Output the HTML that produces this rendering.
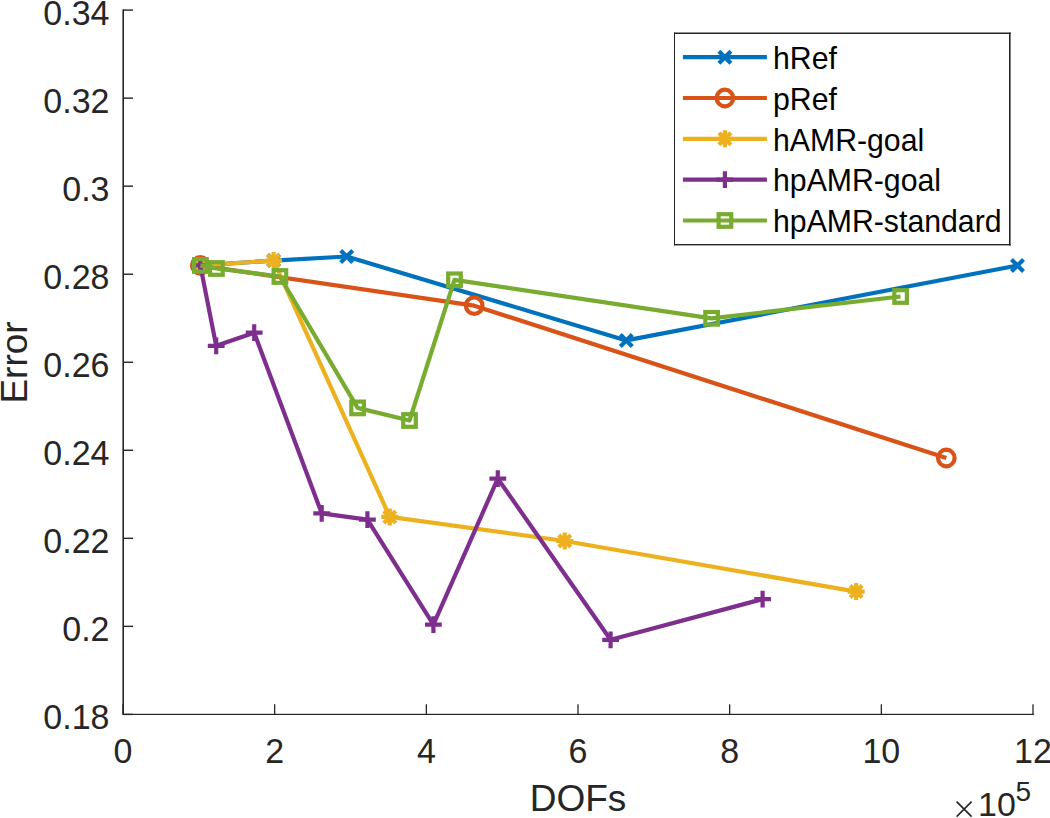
<!DOCTYPE html><html><head><meta charset="utf-8"><style>html,body{margin:0;padding:0;background:#fff;}svg{display:block;}text{font-family:"Liberation Sans",sans-serif;}</style></head><body>
<svg width="1050" height="818" viewBox="0 0 1050 818">
<rect width="1050" height="818" fill="#fff"/>
<g fill="#262626">
<rect x="122.4" y="9.4" width="1.6" height="705.6"/>
<rect x="123" y="713.8" width="911" height="1.2"/>
<rect x="123" y="713.70" width="10" height="1.4"/>
<rect x="123" y="625.66" width="10" height="1.4"/>
<rect x="123" y="537.62" width="10" height="1.4"/>
<rect x="123" y="449.59" width="10" height="1.4"/>
<rect x="123" y="361.55" width="10" height="1.4"/>
<rect x="123" y="273.51" width="10" height="1.4"/>
<rect x="123" y="185.48" width="10" height="1.4"/>
<rect x="123" y="97.44" width="10" height="1.4"/>
<rect x="123" y="9.40" width="10" height="1.4"/>
<rect x="122.35" y="704.3" width="1.3" height="10"/>
<rect x="274.02" y="704.3" width="1.3" height="10"/>
<rect x="425.68" y="704.3" width="1.3" height="10"/>
<rect x="577.35" y="704.3" width="1.3" height="10"/>
<rect x="729.02" y="704.3" width="1.3" height="10"/>
<rect x="880.69" y="704.3" width="1.3" height="10"/>
<rect x="1032.35" y="704.3" width="1.3" height="10"/>
</g>
<g fill="#262626" font-size="34">
<text transform="translate(109.5 729.20) scale(1 1.03)" text-anchor="end">0.18</text>
<text transform="translate(109.5 641.16) scale(1 1.03)" text-anchor="end">0.2</text>
<text transform="translate(109.5 553.12) scale(1 1.03)" text-anchor="end">0.22</text>
<text transform="translate(109.5 465.09) scale(1 1.03)" text-anchor="end">0.24</text>
<text transform="translate(109.5 377.05) scale(1 1.03)" text-anchor="end">0.26</text>
<text transform="translate(109.5 289.01) scale(1 1.03)" text-anchor="end">0.28</text>
<text transform="translate(109.5 200.98) scale(1 1.03)" text-anchor="end">0.3</text>
<text transform="translate(109.5 112.94) scale(1 1.03)" text-anchor="end">0.32</text>
<text transform="translate(109.5 24.90) scale(1 1.03)" text-anchor="end">0.34</text>
<text transform="translate(123.00 762.6) scale(1 1.03)" text-anchor="middle">0</text>
<text transform="translate(274.67 762.6) scale(1 1.03)" text-anchor="middle">2</text>
<text transform="translate(426.33 762.6) scale(1 1.03)" text-anchor="middle">4</text>
<text transform="translate(578.00 762.6) scale(1 1.03)" text-anchor="middle">6</text>
<text transform="translate(729.67 762.6) scale(1 1.03)" text-anchor="middle">8</text>
<text transform="translate(881.34 762.6) scale(1 1.03)" text-anchor="middle">10</text>
<text transform="translate(1033.00 762.6) scale(1 1.03)" text-anchor="middle">12</text>
</g>
<text x="578" y="811" text-anchor="middle" font-size="37" fill="#262626">DOFs</text>
<text transform="translate(26.5 362.5) rotate(-90)" text-anchor="middle" font-size="37" fill="#262626">Error</text>
<path d="M956.6 801.6L971.6 816.6M956.6 816.6L971.6 801.6" stroke="#262626" stroke-width="1.6" fill="none"/>
<text x="978" y="815.8" font-size="34" fill="#262626">10</text>
<text x="1015.5" y="800.8" font-size="28" fill="#262626">5</text>
<path d="M200.30 265.40 L273.60 260.60 L346.70 256.50 L626.30 340.40 L1017.50 265.50" stroke="#0072BD" stroke-width="4.2" fill="none" stroke-linejoin="round"/>
<path d="M194.30 259.40L206.30 271.40M194.30 271.40L206.30 259.40" stroke="#0072BD" stroke-width="4.2" fill="none"/>
<path d="M267.60 254.60L279.60 266.60M267.60 266.60L279.60 254.60" stroke="#0072BD" stroke-width="4.2" fill="none"/>
<path d="M340.70 250.50L352.70 262.50M340.70 262.50L352.70 250.50" stroke="#0072BD" stroke-width="4.2" fill="none"/>
<path d="M620.30 334.40L632.30 346.40M620.30 346.40L632.30 334.40" stroke="#0072BD" stroke-width="4.2" fill="none"/>
<path d="M1011.50 259.50L1023.50 271.50M1011.50 271.50L1023.50 259.50" stroke="#0072BD" stroke-width="4.2" fill="none"/>
<path d="M200.30 265.40 L474.20 305.65 L946.30 458.00" stroke="#D95319" stroke-width="4.2" fill="none" stroke-linejoin="round"/>
<circle cx="200.30" cy="265.40" r="8.3" stroke="#D95319" stroke-width="4.2" fill="none"/>
<circle cx="474.20" cy="305.65" r="8.3" stroke="#D95319" stroke-width="4.2" fill="none"/>
<circle cx="946.30" cy="458.00" r="8.3" stroke="#D95319" stroke-width="4.2" fill="none"/>
<path d="M200.30 265.40 L273.60 260.60 L389.75 516.90 L564.75 541.00 L856.20 591.60" stroke="#EDB120" stroke-width="4.2" fill="none" stroke-linejoin="round"/>
<path d="M191.80 265.40H208.80M200.30 256.90V273.90M194.30 259.40L206.30 271.40M194.30 271.40L206.30 259.40" stroke="#EDB120" stroke-width="4.2" fill="none"/>
<path d="M265.10 260.60H282.10M273.60 252.10V269.10M267.60 254.60L279.60 266.60M267.60 266.60L279.60 254.60" stroke="#EDB120" stroke-width="4.2" fill="none"/>
<path d="M381.25 516.90H398.25M389.75 508.40V525.40M383.75 510.90L395.75 522.90M383.75 522.90L395.75 510.90" stroke="#EDB120" stroke-width="4.2" fill="none"/>
<path d="M556.25 541.00H573.25M564.75 532.50V549.50M558.75 535.00L570.75 547.00M558.75 547.00L570.75 535.00" stroke="#EDB120" stroke-width="4.2" fill="none"/>
<path d="M847.70 591.60H864.70M856.20 583.10V600.10M850.20 585.60L862.20 597.60M850.20 597.60L862.20 585.60" stroke="#EDB120" stroke-width="4.2" fill="none"/>
<path d="M200.30 265.40 L216.20 345.80 L254.20 332.70 L321.70 513.30 L367.40 519.70 L433.40 624.60 L497.80 478.60 L610.60 639.80 L762.60 599.10" stroke="#7E2F8E" stroke-width="4.2" fill="none" stroke-linejoin="round"/>
<path d="M191.90 265.40H208.70M200.30 257.00V273.80" stroke="#7E2F8E" stroke-width="4.2" fill="none"/>
<path d="M207.80 345.80H224.60M216.20 337.40V354.20" stroke="#7E2F8E" stroke-width="4.2" fill="none"/>
<path d="M245.80 332.70H262.60M254.20 324.30V341.10" stroke="#7E2F8E" stroke-width="4.2" fill="none"/>
<path d="M313.30 513.30H330.10M321.70 504.90V521.70" stroke="#7E2F8E" stroke-width="4.2" fill="none"/>
<path d="M359.00 519.70H375.80M367.40 511.30V528.10" stroke="#7E2F8E" stroke-width="4.2" fill="none"/>
<path d="M425.00 624.60H441.80M433.40 616.20V633.00" stroke="#7E2F8E" stroke-width="4.2" fill="none"/>
<path d="M489.40 478.60H506.20M497.80 470.20V487.00" stroke="#7E2F8E" stroke-width="4.2" fill="none"/>
<path d="M602.20 639.80H619.00M610.60 631.40V648.20" stroke="#7E2F8E" stroke-width="4.2" fill="none"/>
<path d="M754.20 599.10H771.00M762.60 590.70V607.50" stroke="#7E2F8E" stroke-width="4.2" fill="none"/>
<path d="M200.40 265.40 L216.40 268.50 L279.90 276.50 L357.60 407.90 L409.50 420.50 L454.50 279.80 L711.60 318.30 L900.60 296.50" stroke="#77AC30" stroke-width="4.2" fill="none" stroke-linejoin="round"/>
<rect x="194.10" y="259.10" width="12.60" height="12.60" stroke="#77AC30" stroke-width="4.2" fill="none"/>
<rect x="210.10" y="262.20" width="12.60" height="12.60" stroke="#77AC30" stroke-width="4.2" fill="none"/>
<rect x="273.60" y="270.20" width="12.60" height="12.60" stroke="#77AC30" stroke-width="4.2" fill="none"/>
<rect x="351.30" y="401.60" width="12.60" height="12.60" stroke="#77AC30" stroke-width="4.2" fill="none"/>
<rect x="403.20" y="414.20" width="12.60" height="12.60" stroke="#77AC30" stroke-width="4.2" fill="none"/>
<rect x="448.20" y="273.50" width="12.60" height="12.60" stroke="#77AC30" stroke-width="4.2" fill="none"/>
<rect x="705.30" y="312.00" width="12.60" height="12.60" stroke="#77AC30" stroke-width="4.2" fill="none"/>
<rect x="894.30" y="290.20" width="12.60" height="12.60" stroke="#77AC30" stroke-width="4.2" fill="none"/>
<rect x="674" y="32" width="337" height="214" fill="#fff"/>
<g fill="#262626">
<rect x="674" y="32.5" width="1" height="213"/>
<rect x="674" y="32.5" width="336.6" height="1.5"/>
<rect x="1009" y="32.5" width="1.6" height="213"/>
<rect x="674" y="244" width="336.6" height="1.4"/>
</g>
<path d="M682.9 57.20H766.9" stroke="#0072BD" stroke-width="4.2"/>
<path d="M718.90 51.20L730.90 63.20M718.90 63.20L730.90 51.20" stroke="#0072BD" stroke-width="4.2" fill="none"/>
<text transform="translate(773 68.95) scale(1.008 1.03)" font-size="30" fill="#000">hRef</text>
<path d="M682.9 98.02H766.9" stroke="#D95319" stroke-width="4.2"/>
<circle cx="724.90" cy="98.02" r="8.3" stroke="#D95319" stroke-width="4.2" fill="none"/>
<text transform="translate(773 109.77) scale(1.008 1.03)" font-size="30" fill="#000">pRef</text>
<path d="M682.9 138.84H766.9" stroke="#EDB120" stroke-width="4.2"/>
<path d="M716.40 138.84H733.40M724.90 130.34V147.34M718.90 132.84L730.90 144.84M718.90 144.84L730.90 132.84" stroke="#EDB120" stroke-width="4.2" fill="none"/>
<text transform="translate(773 150.59) scale(1.008 1.03)" font-size="30" fill="#000">hAMR-goal</text>
<path d="M682.9 179.66H766.9" stroke="#7E2F8E" stroke-width="4.2"/>
<path d="M716.50 179.66H733.30M724.90 171.26V188.06" stroke="#7E2F8E" stroke-width="4.2" fill="none"/>
<text transform="translate(773 191.41) scale(1.008 1.03)" font-size="30" fill="#000">hpAMR-goal</text>
<path d="M682.9 220.48H766.9" stroke="#77AC30" stroke-width="4.2"/>
<rect x="718.60" y="214.18" width="12.60" height="12.60" stroke="#77AC30" stroke-width="4.2" fill="none"/>
<text transform="translate(773 232.23) scale(1.008 1.03)" font-size="30" fill="#000">hpAMR-standard</text>
</svg></body></html>
